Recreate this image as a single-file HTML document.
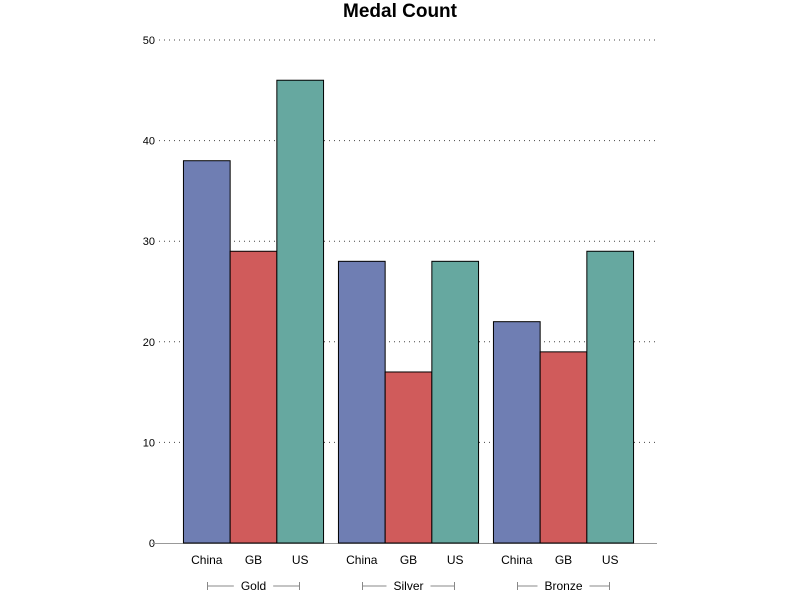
<!DOCTYPE html>
<html><head><meta charset="utf-8"><style>
body{margin:0;background:#fff;}
svg{display:block;font-family:"Liberation Sans",Arial,sans-serif;}
</style></head><body>
<svg id="chart" width="800" height="600">
<text x="400" y="17" text-anchor="middle" font-size="19" font-weight="bold">Medal Count</text>
<g id="grid"></g><g id="bars"></g><g id="labels"></g>
</svg>
<script>
const groups=["Gold","Silver","Bronze"];
const countries=["China","GB","US"];
const gold=[38,29,46];
const silver=[28,17,28];
const bronze=[22,19,29];
const yTicks=[0,10,20,30,40,50];
const colors=["#6f7eb3","#d05b5b","#66a8a0"];
const series=[gold,silver,bronze];
const NS="http://www.w3.org/2000/svg";
function y(v){return 543-v*10.06;}
function gx(i){return 253.5+i*155;}
const bw=46.7;
function mk(tag,attrs,parent,text){const e=document.createElementNS(NS,tag);for(const k in attrs)e.setAttribute(k,attrs[k]);if(text!==undefined)e.textContent=text;document.getElementById(parent).appendChild(e);return e;}
yTicks.forEach(t=>{
  if(t>0){const l=mk('line',{x1:159,x2:657,y1:y(t),y2:y(t),stroke:'#444','stroke-dasharray':'1,4'},'grid');
  
  }
  const tx=mk('text',{x:155,y:y(t)+4,'text-anchor':'end','font-size':11},'grid',String(t));
  
  
});
const ax=mk('line',{x1:152,x2:657,y1:543.5,y2:543.5,stroke:'#999'},'grid');


series.forEach((vals,g)=>{
  vals.forEach((v,c)=>{
    const x=gx(g)+(c-1.5)*bw;
    const r=mk('rect',{x:x,y:y(v),width:bw,height:543-y(v),fill:colors[c],stroke:'#000','stroke-width':1},'bars');
    
    
    const t=mk('text',{x:x+bw/2,y:564,'text-anchor':'middle','font-size':12},'labels',countries[c]);
    
    
  });
  const cx=gx(g);
  const gt=mk('text',{x:cx,y:590,'text-anchor':'middle','font-size':12},'labels',groups[g]);
  
  
  const half=gt.getComputedTextLength()/2+7;
  const b=mk('path',{d:`M${cx-46},582V590M${cx-46},586H${cx-half}M${cx+half},586H${cx+46}M${cx+46},582V590`,stroke:'#888',fill:'none'},'labels');
  
  
});
</script>
</body></html>
